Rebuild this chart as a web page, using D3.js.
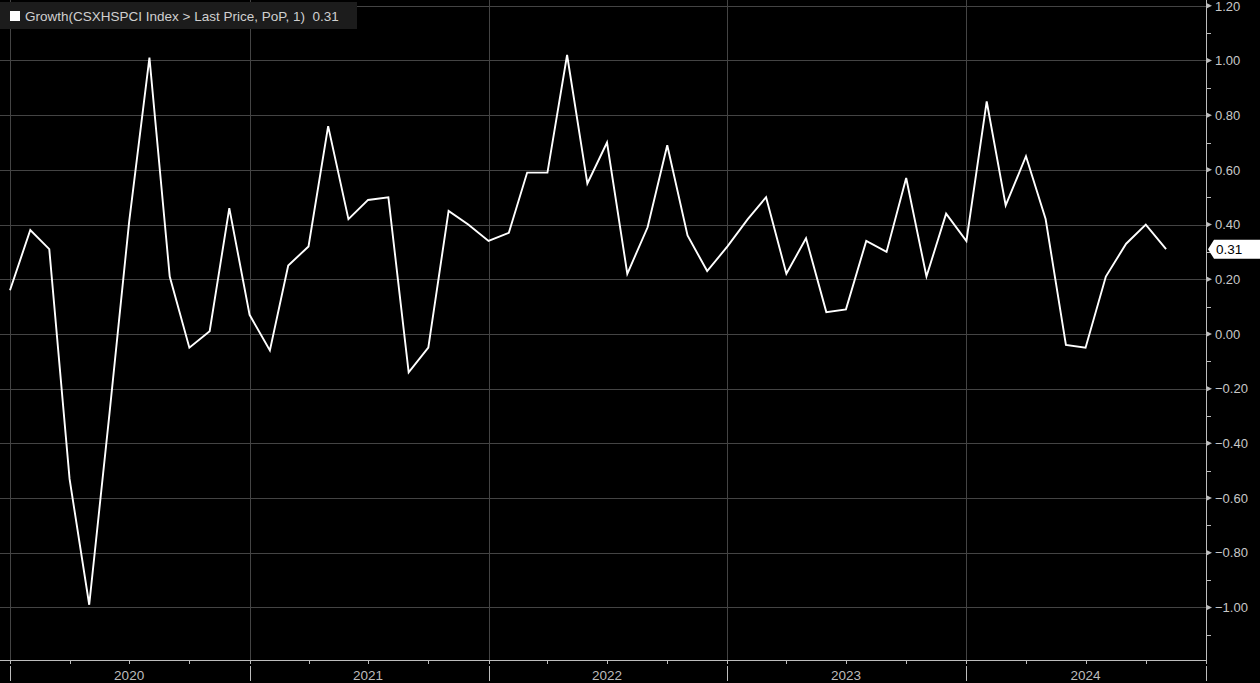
<!DOCTYPE html>
<html>
<head>
  <meta charset="utf-8">
  <title>Growth(CSXHSPCI Index)</title>
  <script src="https://d3js.org/d3.v7.min.js"></script>
  <style>
    html, body { margin: 0; padding: 0; background: #000; }
    svg { display: block; font-family: "Liberation Sans", Arial, sans-serif; }
  </style>
</head>
<body>
<svg width="1260" height="683"></svg>
<script>
  // monthly growth values, first month Jan 2020
  const startMonth = new Date(2020, 0, 1);
  const values = [
    0.16, 0.38, 0.31, -0.53, -0.99, -0.29, 0.41, 1.01, 0.21, -0.05, 0.01, 0.46,
    0.07, -0.06, 0.25, 0.32, 0.76, 0.42, 0.49, 0.50, -0.14, -0.05, 0.45, 0.40,
    0.34, 0.37, 0.59, 0.59, 1.02, 0.55, 0.70, 0.22, 0.39, 0.69, 0.36, 0.23,
    0.32, 0.42, 0.50, 0.22, 0.35, 0.08, 0.09, 0.34, 0.30, 0.57, 0.21, 0.44,
    0.34, 0.85, 0.47, 0.65, 0.42, -0.04, -0.05, 0.21, 0.33, 0.40, 0.31
  ];
  const months = values.map((v, i) => d3.timeMonth.offset(startMonth, i));
  const yearLabels = ["2020", "2021", "2022", "2023", "2024"];
  const yTicks = [1.2, 1.0, 0.8, 0.6, 0.4, 0.2, 0, -0.2, -0.4, -0.6, -0.8, -1.0];
  const legendText = "Growth(CSXHSPCI Index > Last Price, PoP, 1)  0.31";
  const lastValue = 0.31;

  const svg = d3.select("svg");
  const plotRight = 1206, plotBottom = 660;

  const x = d3.scaleTime()
    .domain([new Date(2020, 0, 1), new Date(2025, 0, 1)])
    .range([10, plotRight]);
  const y = d3.scaleLinear().domain([-1.192, 1.221]).range([plotBottom, 0]);

  // horizontal gridlines
  svg.append("g").selectAll("line")
    .data(yTicks)
    .enter().append("line")
    .attr("x1", 0).attr("x2", plotRight)
    .attr("y1", d => Math.round(y(d)) + 0.5).attr("y2", d => Math.round(y(d)) + 0.5)
    .style("stroke", "#444").style("stroke-width", 1);

  // vertical gridlines at year starts
  const yearStarts = d3.timeYear.range(new Date(2020, 0, 1), new Date(2025, 0, 1));
  svg.append("g").selectAll("line")
    .data(yearStarts)
    .enter().append("line")
    .attr("x1", d => Math.round(x(d)) + 0.5).attr("x2", d => Math.round(x(d)) + 0.5)
    .attr("y1", 0).attr("y2", plotBottom)
    .style("stroke", "#444").style("stroke-width", 1);

  // the series line
  const line = d3.line()
    .x((d, i) => x(months[i]))
    .y(d => y(d));
  svg.append("path")
    .datum(values)
    .attr("d", line)
    .style("fill", "none")
    .style("stroke", "#fff")
    .style("stroke-width", 1.9)
    .style("stroke-linejoin", "miter");

  // bottom axis
  const axisColor = "#bdbdbd";
  svg.append("line")
    .attr("x1", 0).attr("x2", plotRight + 1)
    .attr("y1", plotBottom + 0.5).attr("y2", plotBottom + 0.5)
    .style("stroke", axisColor);
  const quarters = d3.timeMonth.every(3).range(new Date(2020, 0, 1), new Date(2025, 0, 2));
  svg.append("g").selectAll("line")
    .data(quarters)
    .enter().append("line")
    .attr("x1", d => Math.round(x(d)) + 0.5).attr("x2", d => Math.round(x(d)) + 0.5)
    .attr("y1", plotBottom).attr("y2", plotBottom + 4)
    .style("stroke", axisColor);
  svg.append("g").selectAll("line")
    .data(d3.timeYear.range(new Date(2020, 0, 1), new Date(2025, 0, 2)))
    .enter().append("line")
    .attr("x1", d => Math.round(x(d)) + 0.5).attr("x2", d => Math.round(x(d)) + 0.5)
    .attr("y1", plotBottom + 6).attr("y2", plotBottom + 21)
    .style("stroke", axisColor);
  svg.append("g").selectAll("text")
    .data(yearLabels)
    .enter().append("text")
    .attr("x", d => x(new Date(+d, 6, 1)))
    .attr("y", 680)
    .attr("text-anchor", "middle")
    .style("fill", "#bdbdbd")
    .style("font-size", "13.5px")
    .text(d => d);

  // right axis
  svg.append("line")
    .attr("x1", plotRight + 0.5).attr("x2", plotRight + 0.5)
    .attr("y1", 0).attr("y2", plotBottom + 1)
    .style("stroke", axisColor);
  const minorTicks = d3.range(-11, 12).map(k => k / 10).filter(v => !yTicks.some(t => Math.abs(t - v) < 1e-6));
  svg.append("g").selectAll("line")
    .data(minorTicks)
    .enter().append("line")
    .attr("x1", plotRight).attr("x2", plotRight + 5)
    .attr("y1", d => Math.round(y(d)) + 0.5).attr("y2", d => Math.round(y(d)) + 0.5)
    .style("stroke", axisColor);
  const major = svg.append("g").selectAll("g")
    .data(yTicks)
    .enter().append("g")
    .attr("transform", d => `translate(${plotRight},${y(d)})`);
  major.append("path")
    .attr("d", "M0,-3L6,0L0,3Z")
    .style("fill", axisColor);
  major.append("text")
    .attr("x", 9).attr("dy", d => d > 1.1 ? "0.42em" : "0.36em")
    .style("fill", "#c8c8c8")
    .style("font-size", "13px")
    .text(d => d3.format(".2f")(d));

  // last value tag
  const yl = y(lastValue);
  svg.append("path")
    .attr("d", `M${plotRight + 2},${yl}L${plotRight + 8},${yl - 9.5}L1260,${yl - 9.5}L1260,${yl + 9.5}L${plotRight + 8},${yl + 9.5}Z`)
    .style("fill", "#fff");
  svg.append("text")
    .attr("x", plotRight + 10).attr("y", yl).attr("dy", "0.36em")
    .style("fill", "#000")
    .style("font-size", "13.5px")
    .text(d3.format(".2f")(lastValue));

  // legend
  svg.append("rect")
    .attr("x", 0).attr("y", 2).attr("width", 357).attr("height", 27)
    .style("fill", "#1c1c1c");
  svg.append("rect")
    .attr("x", 10).attr("y", 11).attr("width", 10).attr("height", 10)
    .style("fill", "#fff");
  svg.append("text")
    .attr("x", 25).attr("y", 20.5)
    .style("fill", "#d0d0d0")
    .style("font-size", "13.5px")
    .style("white-space", "pre")
    .attr("xml:space", "preserve")
    .text(legendText);
</script>
</body>
</html>
